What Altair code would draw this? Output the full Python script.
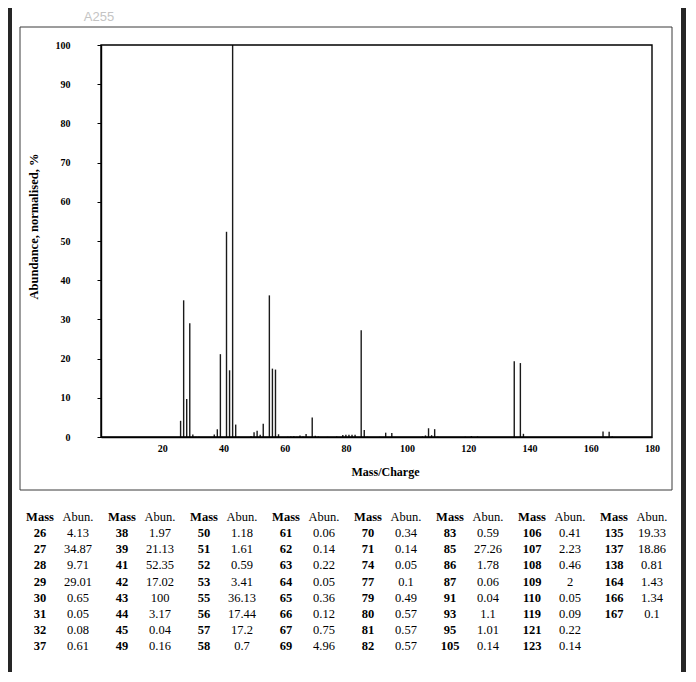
import altair as alt
import pandas as pd

masses = [26, 27, 28, 29, 30, 31, 32, 37,
          38, 39, 41, 42, 43, 44, 45, 49,
          50, 51, 52, 53, 55, 56, 57, 58,
          61, 62, 63, 64, 65, 66, 67, 69,
          70, 71, 74, 77, 79, 80, 81, 82,
          83, 85, 86, 87, 91, 93, 95, 105,
          106, 107, 108, 109, 110, 119, 121, 123,
          135, 137, 138, 164, 166, 167]
abundances = [4.13, 34.87, 9.71, 29.01, 0.65, 0.05, 0.08, 0.61,
              1.97, 21.13, 52.35, 17.02, 100, 3.17, 0.04, 0.16,
              1.18, 1.61, 0.59, 3.41, 36.13, 17.44, 17.2, 0.7,
              0.06, 0.14, 0.22, 0.05, 0.36, 0.12, 0.75, 4.96,
              0.34, 0.14, 0.05, 0.1, 0.49, 0.57, 0.57, 0.57,
              0.59, 27.26, 1.78, 0.06, 0.04, 1.1, 1.01, 0.14,
              0.41, 2.23, 0.46, 2, 0.05, 0.09, 0.22, 0.14,
              19.33, 18.86, 0.81, 1.43, 1.34, 0.1]
x_ticks = [20, 40, 60, 80, 100, 120, 140, 160, 180]
y_ticks = [0, 10, 20, 30, 40, 50, 60, 70, 80, 90, 100]
header_mass = "Mass"
header_abun = "Abun."
rows_per_column = 8
n_pairs = 8

spec_df = pd.DataFrame({"mass": masses, "abun": abundances})

bold_rows = [{"p": p, "r": 0, "t": header_mass} for p in range(n_pairs)]
norm_rows = [{"p": p, "r": 0, "t": header_abun} for p in range(n_pairs)]
for i, (m, a) in enumerate(zip(masses, abundances)):
    p, r = i // rows_per_column, i % rows_per_column + 1
    bold_rows.append({"p": p, "r": r, "t": str(m)})
    norm_rows.append({"p": p, "r": r, "t": f"{a:g}"})
bold_df = pd.DataFrame(bold_rows)
norm_df = pd.DataFrame(norm_rows)

one = pd.DataFrame({"k": [0]})
SERIF = "Liberation Serif"
W, H = 551, 392

page = alt.Chart(one).mark_rect(fill="white").encode(
    x=alt.value(-89), x2=alt.value(580), y=alt.value(-40), y2=alt.value(627))

frame = alt.Chart(one).mark_rect(fill="transparent", stroke="#3a3a3a", strokeWidth=1).encode(
    x=alt.value(-81), x2=alt.value(571), y=alt.value(-18), y2=alt.value(445))

spectrum = alt.Chart(spec_df).mark_rule(color="#1a1a1a", strokeWidth=1.4).encode(
    x=alt.X("mass:Q",
            scale=alt.Scale(domain=[0, 180], nice=False, zero=False),
            axis=alt.Axis(values=x_ticks, title="Mass/Charge", ticks=False, grid=False,
                          zindex=2, labelFlush=False,
                          labelFont=SERIF, labelFontWeight="bold", labelFontSize=10,
                          labelColor="black", labelPadding=6,
                          domainColor="black", domainWidth=1.4,
                          titleFont=SERIF, titleFontWeight="bold", titleFontSize=12,
                          titleColor="black", titleX=284, titleY=34,
                          titleBaseline="middle")),
    y=alt.Y("abun:Q",
            scale=alt.Scale(domain=[0, 100], nice=False),
            axis=alt.Axis(values=y_ticks, title="Abundance, normalised, %", grid=False,
                          zindex=2, labelFlush=False,
                          tickSize=4, tickColor="black", tickWidth=1,
                          labelFont=SERIF, labelFontWeight="bold", labelFontSize=10,
                          labelColor="black", labelPadding=27,
                          domainColor="black", domainWidth=1.4,
                          titleFont=SERIF, titleFontWeight="bold", titleFontSize=12.5,
                          titleColor="black", titleX=-68, titleY=181,
                          titleBaseline="middle")),
    y2=alt.datum(0),
)

box = alt.Chart(one).mark_rect(fill="transparent", stroke="black", strokeWidth=1.4).encode(
    x=alt.value(0), x2=alt.value(W), y=alt.value(0), y2=alt.value(H))

label = alt.Chart(pd.DataFrame({"t": ["A255"]})).mark_text(
    font="Liberation Sans", fontSize=13, color="#c4c4c4", align="center",
    baseline="middle").encode(text="t:N", x=alt.value(-2), y=alt.value(-28))

col_scale = alt.Scale(domain=[0, n_pairs - 1], range=[40 - 101, 614 - 101])
row_scale = alt.Scale(domain=[0, rows_per_column], range=[517 - 45, 646 - 45])

table_bold = alt.Chart(bold_df).mark_text(
    font=SERIF, fontSize=12.5, fontWeight="bold", color="black",
    align="center", baseline="middle").encode(
    x=alt.X("p:Q", scale=col_scale, axis=None),
    y=alt.Y("r:Q", scale=row_scale, axis=None),
    text="t:N")

table_norm = alt.Chart(norm_df).mark_text(
    font=SERIF, fontSize=12.5, color="black", dx=38,
    align="center", baseline="middle").encode(
    x=alt.X("p:Q", scale=col_scale, axis=None),
    y=alt.Y("r:Q", scale=row_scale, axis=None),
    text="t:N")

chart = alt.layer(page, frame, spectrum, box, label, table_bold, table_norm).resolve_scale(
    x="independent", y="independent"
).properties(
    width=W, height=H,
    autosize=alt.AutoSizeParams(type="none"),
    padding={"left": 93, "top": 37, "right": 34, "bottom": 235},
).configure(background="#262626").configure_view(strokeWidth=0)

chart.save("out.html", embed_options={"renderer": "svg", "actions": False})
